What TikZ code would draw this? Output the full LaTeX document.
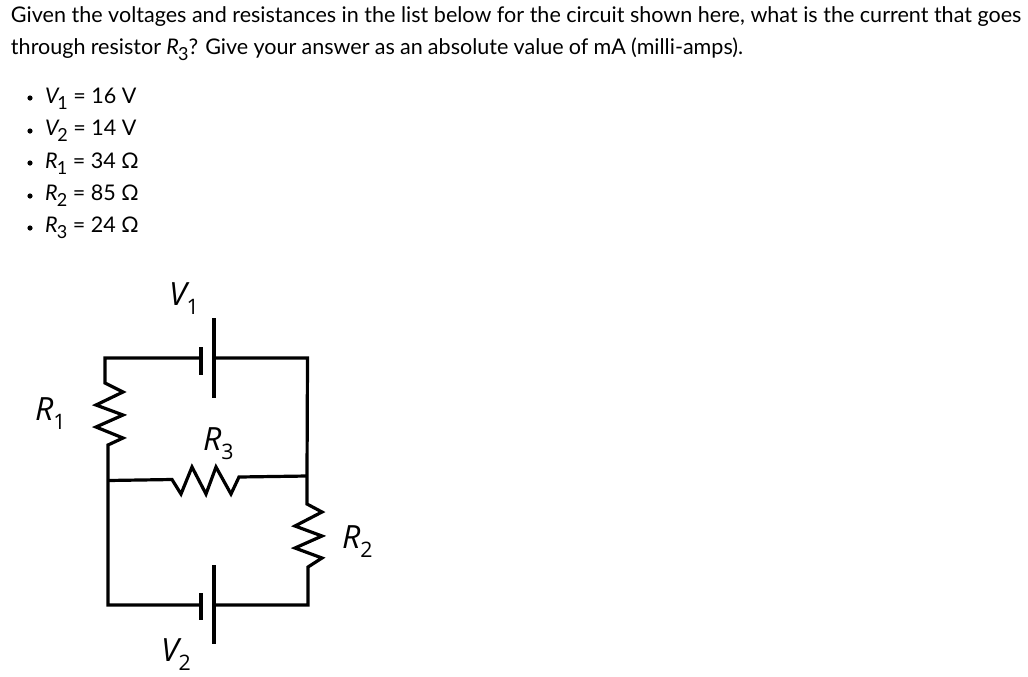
\documentclass[tikz,border=0pt]{standalone}
\usepackage{fontspec}
\setmainfont{Lato}
\newfontfamily\ckt{Open Sans}
\newcommand{\sbs}[1]{\kern-1.6pt\raisebox{-0.28em}{\fontsize{13.5}{14}\selectfont #1}}
\newcommand{\rsbs}[1]{\kern-0.5pt\raisebox{-0.28em}{\fontsize{13.5}{14}\selectfont #1}}
\newcommand{\csbs}[1]{\raisebox{-0.3em}{\upshape\fontsize{16}{16}\selectfont #1}}
\tikzset{
  wire/.style={line width=2.4pt,line join=miter,line cap=butt,black},
  body/.style={anchor=base west,inner sep=0pt,outer sep=0pt,font=\fontsize{16.16}{18}\selectfont},
  bulletdot/.style={circle,fill=black,inner sep=0pt,minimum size=3.9pt},
  cktlabel/.style={inner sep=0pt,outer sep=0pt,anchor=base west,font=\ckt\itshape\fontsize{24}{26}\selectfont},
}
\begin{document}
\begin{tikzpicture}[x=0.75pt,y=-0.75pt]
\useasboundingbox (0,0) rectangle (1028,676);
\node[body] (line1) at (11,22) {Given the voltages and resistances in the list below for the circuit shown here, what is the current that goes};
\node[body] (line2) at (11,54) {\spaceskip=\fontdimen2\font \advance\spaceskip -0.25pt through resistor \textit{R}\rsbs{3}? Give your answer as an absolute value of mA (milli-amps).};
\node[bulletdot] (b1) at (30,98) {};
\node[bulletdot] (b2) at (30,131) {};
\node[bulletdot] (b3) at (30,163) {};
\node[bulletdot] (b4) at (30,196) {};
\node[bulletdot] (b5) at (30,228) {};
\node[body] (i1) at (45,103) {\textit{V}\sbs{1} = 16 V};
\node[body] (i2) at (45,135) {\textit{V}\sbs{2} = 14 V};
\node[body] (i3) at (45,168) {\textit{R}\rsbs{1} = 34 Ω};
\node[body] (i4) at (45,200) {\textit{R}\rsbs{2} = 85 Ω};
\node[body] (i5) at (45,232) {\textit{R}\rsbs{3} = 24 Ω};
\node[cktlabel] (lv1) at (169,305) {V\csbs{1}};
\node[cktlabel] (lv2) at (161,661) {V\csbs{2}};
\node[cktlabel] (lr1) at (35,420) {R\csbs{1}};
\node[cktlabel] (lr2) at (342,548) {R\csbs{2}};
\node[cktlabel] (lr3) at (203,450) {R\csbs{3}};
% junctions and corners
\coordinate (tl) at (105,358);
\coordinate (tr) at (307.5,358);
\coordinate (jl) at (108,480.5);
\coordinate (jr) at (307,476);
\coordinate (bl) at (108,605);
\coordinate (br) at (308,605);
% batteries
\coordinate (v1a) at (201,347); \coordinate (v1b) at (201,375);
\coordinate (v1c) at (214,318); \coordinate (v1d) at (214,398);
\coordinate (v2a) at (201,593); \coordinate (v2b) at (201,620);
\coordinate (v2c) at (214,565); \coordinate (v2d) at (214,644);
\draw[wire] (v1a) -- (v1b);
\draw[wire] (v1c) -- (v1d);
\draw[wire] (v2a) -- (v2b);
\draw[wire] (v2c) -- (v2d);
% top loop
\draw[wire] (201,358) -- (tl) -- (105,383) -- (123,392) -- (96,405) -- (123,415) -- (96,427) -- (123,438) -- (108,445) -- (jl) -- (bl) -- (201,605);
\draw[wire] (214,358) -- (tr) -- (jr) -- (307,504) -- (322,512) -- (295,526) -- (322,536) -- (295,548) -- (322,558) -- (308,567) -- (br) -- (214,605);
% R3
\draw[wire] (jl) -- (172,479.5) -- (181,494) -- (192,467) -- (206,494) -- (216,467) -- (231,494) -- (239,477) -- (jr);
\end{tikzpicture}
\end{document}
